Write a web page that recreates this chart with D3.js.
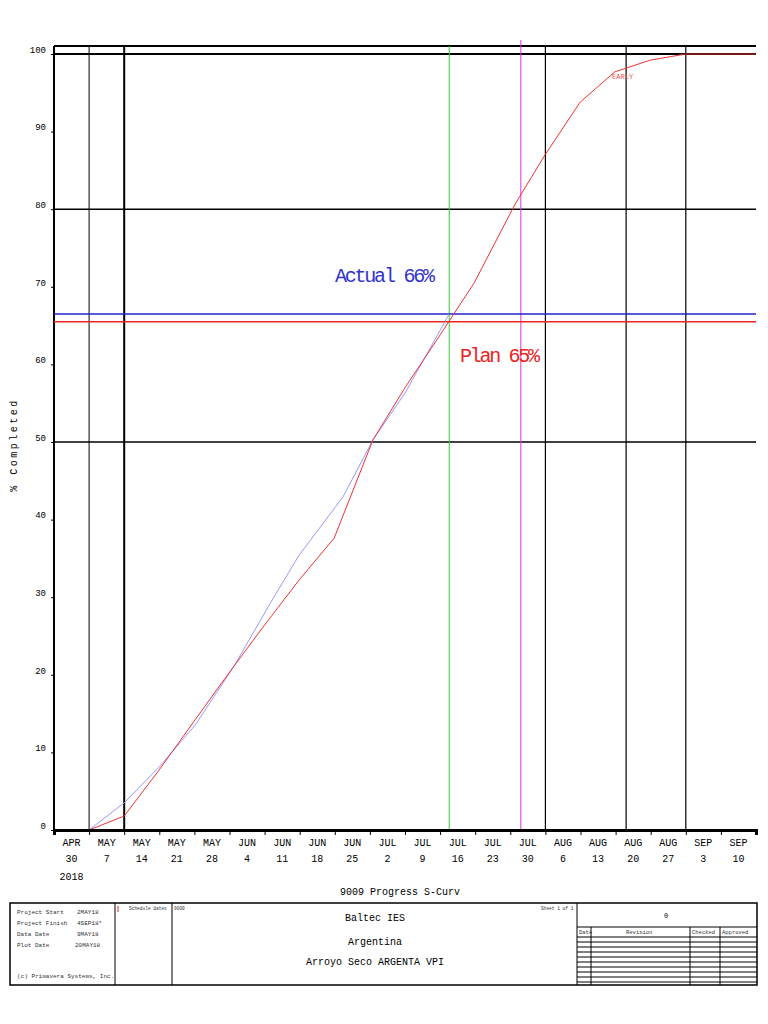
<!DOCTYPE html>
<html><head><meta charset="utf-8">
<script src="https://cdn.jsdelivr.net/npm/d3@7"></script>
<style>body{margin:0;background:#fff}text{font-family:"Liberation Mono",monospace}</style>
</head><body><svg id="c" width="768" height="1024"></svg>
<script>
// week labels (month / day)
var months = ["APR","MAY","MAY","MAY","MAY","JUN","JUN","JUN","JUN","JUL","JUL","JUL","JUL","JUL","AUG","AUG","AUG","AUG","SEP","SEP"];
var days = ["30","7","14","21","28","4","11","18","25","2","9","16","23","30","6","13","20","27","3","10"];
var yTicks = [0,10,20,30,40,50,60,70,80,90,100];
// week index (0 = Apr 30) and percent complete
var planWeek = [1,2,2.99,4.02,5.01,5.93,6.98,7.98,9.09,10,11,11.97,13.13,13.99,14.99,15.98,16.98,18,20];
var planPct  = [0,1.8,7.7,14.2,20.4,26,32.2,37.6,50.3,57,63.8,70.5,80.6,87,93.8,97.7,99.2,100,100];
var actWeek = [1,2,2.99,4.02,5.1,6.21,6.98,8.23,9.09,10,11,11.26];
var actPct  = [0,3.5,8.1,13.5,20.9,29.6,35.4,42.9,50.3,56.3,64.4,66.5];

var svg = d3.select("#c");
var x = d3.scaleLinear().domain([0,20]).range([54,756]);
var y = d3.scaleLinear().domain([0,100]).range([830,54]);

// frame
svg.append("line").attr("x1",54).attr("x2",756).attr("y1",46).attr("y2",46).attr("stroke","#000").attr("stroke-width",2);
svg.append("line").attr("x1",54).attr("x2",54).attr("y1",46).attr("y2",830).attr("stroke","#000").attr("stroke-width",2);

// horizontal grid
[100,80,50].forEach(function(v){
  svg.append("line").attr("x1",54).attr("x2",756).attr("y1",y(v)).attr("y2",y(v)).attr("stroke","#000").attr("stroke-width",v==100?2:1.5);
});
// vertical grid
[[1,1,"#000"],[2,2,"#000"],[14,1.2,"#000"],[16.3,1.2,"#000"],[18,1.2,"#000"]].forEach(function(g){
  svg.append("line").attr("x1",x(g[0])).attr("x2",x(g[0])).attr("y1",46).attr("y2",830).attr("stroke",g[2]).attr("stroke-width",g[1]);
});
svg.append("line").attr("x1",x(11.26)).attr("x2",x(11.26)).attr("y1",46).attr("y2",830).attr("stroke","#3c3").attr("stroke-width",1);
svg.append("line").attr("x1",x(13.3)).attr("x2",x(13.3)).attr("y1",40).attr("y2",830).attr("stroke","#d3d").attr("stroke-width",1);

// actual / plan lines
svg.append("line").attr("x1",54).attr("x2",756).attr("y1",y(66.5)).attr("y2",y(66.5)).attr("stroke","#22c").attr("stroke-width",1.5);
svg.append("line").attr("x1",54).attr("x2",756).attr("y1",y(65.5)).attr("y2",y(65.5)).attr("stroke","#e22").attr("stroke-width",1.5);
svg.append("text").attr("x",385).attr("y",282).attr("text-anchor","middle").attr("fill","#33c").attr("font-size",20).attr("textLength",100).text("Actual 66%");
svg.append("text").attr("x",500).attr("y",362).attr("text-anchor","middle").attr("fill","#e22").attr("font-size",20).attr("textLength",80).text("Plan 65%");

// curves
var line = d3.line().x(function(d){return x(d[0]);}).y(function(d){return y(d[1]);});
svg.append("path").datum(d3.zip(actWeek,actPct)).attr("d",line).attr("fill","none").attr("stroke","#99f").attr("stroke-width",1);
svg.append("path").datum(d3.zip(planWeek,planPct)).attr("d",line).attr("fill","none").attr("stroke","#e33").attr("stroke-width",1);
svg.append("text").attr("x",x(16.2)).attr("y",y(96.8)).attr("fill","#e55").attr("font-size",7).attr("text-anchor","middle").text("EARLY");

// y axis
var ya = svg.append("g").attr("transform","translate(54,0)")
  .call(d3.axisLeft(y).tickValues(yTicks).tickSize(3).tickFormat(d3.format("d")));
ya.select(".domain").remove();
ya.selectAll("text").attr("font-family","Liberation Mono").attr("font-size",9).attr("dy","-0.2em").attr("x",-8);
svg.append("text").attr("transform","translate(17,445) rotate(-90)").attr("text-anchor","middle").attr("font-size",10).attr("letter-spacing",2.5).text("% Completed");

// x axis
var xa = svg.append("g").attr("transform","translate(0,830)")
  .call(d3.axisBottom(x).tickValues(d3.range(0,21)).tickSize(5).tickFormat(""));
xa.select(".domain").attr("stroke-width",3);
svg.selectAll(".wk").data(months).enter().append("text")
  .attr("x",function(d,i){return x(i+0.5);}).attr("y",846).attr("text-anchor","middle").attr("font-size",10).text(function(d){return d;});
svg.selectAll(".dy").data(days).enter().append("text")
  .attr("x",function(d,i){return x(i+0.5);}).attr("y",862).attr("text-anchor","middle").attr("font-size",10).text(function(d){return d;});
svg.append("text").attr("x",x(0.5)).attr("y",880).attr("text-anchor","middle").attr("font-size",10).text("2018");
svg.append("text").attr("x",400).attr("y",895).attr("text-anchor","middle").attr("font-size",10).text("9009 Progress S-Curv");

// title block
var tb = svg.append("g");
tb.append("rect").attr("x",10).attr("y",903).attr("width",747).attr("height",82).attr("fill","none").attr("stroke","#000").attr("stroke-width",1.5);
[115,172,577].forEach(function(cx){tb.append("line").attr("x1",cx).attr("x2",cx).attr("y1",903).attr("y2",985).attr("stroke","#000");});
tb.append("line").attr("x1",577).attr("x2",757).attr("y1",927).attr("y2",927).attr("stroke","#000");
tb.append("line").attr("x1",577).attr("x2",757).attr("y1",937).attr("y2",937).attr("stroke","#000");
d3.range(942,985,5).forEach(function(ry){tb.append("line").attr("x1",577).attr("x2",757).attr("y1",ry).attr("y2",ry).attr("stroke","#000").attr("stroke-width",1.2);});
[591,690,720].forEach(function(cx){tb.append("line").attr("x1",cx).attr("x2",cx).attr("y1",927).attr("y2",985).attr("stroke","#000");});
var small = [["Project Start",17,914,6],["Project Finish",17,925,6],["Data Date",17,936,6],["Plot Date",17,947,6],
  ["2MAY18",77,914,6],["4SEP18*",77,925,6],["9MAY18",77,936,6],["20MAY18",75,947,6],["(c) Primavera Systems, Inc.",17,978,6],
  ["Schedule dates",129,910,4.5],["9009",174,910,4.5],["Sheet 1 of 1",541,910,4.5],
  ["Date",579,934,5.5],["Revision",626,934,5.5],["Checked",692,934,5.5],["Approved",722,934,5.5]];
small.forEach(function(s){tb.append("text").attr("x",s[1]).attr("y",s[2]).attr("font-size",s[3]).attr("fill","#333").text(s[0]);});
tb.append("line").attr("x1",118).attr("x2",118).attr("y1",906).attr("y2",912).attr("stroke","#e22");
tb.append("text").attr("x",666).attr("y",918).attr("text-anchor","middle").attr("font-size",7).text("0");
[["Baltec IES",921],["Argentina",945],["Arroyo Seco ARGENTA VPI",965]].forEach(function(t){
  tb.append("text").attr("x",375).attr("y",t[1]).attr("text-anchor","middle").attr("font-size",10).text(t[0]);});
</script></body></html>
